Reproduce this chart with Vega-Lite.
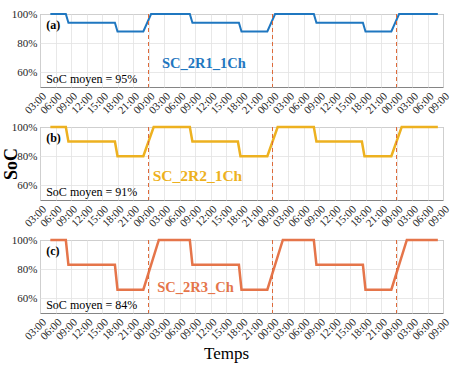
{
  "$schema": "https://vega.github.io/schema/vega-lite/v6.json",
  "background": "white",
  "padding": {"left": 1, "top": 7, "right": 5, "bottom": 5},
  "config": {
    "font": "Liberation Serif",
    "view": {"stroke": "#858585", "strokeWidth": 1},
    "text": {"font": "Liberation Serif"},
    "axis": {
      "labelFont": "Liberation Serif",
      "titleFont": "Liberation Serif",
      "labelFontSize": 11,
      "labelColor": "#262626",
      "titleColor": "#000000",
      "gridColor": "#e2e2e2",
      "gridWidth": 0.8,
      "domain": false,
      "ticks": false,
      "labelOverlap": false
    }
  },
  "datasets": {
    "soc": [
      {"panel": "a", "h": 5, "soc": 100}, {"panel": "a", "h": 8, "soc": 100}, {"panel": "a", "h": 8.5, "soc": 94}, {"panel": "a", "h": 17.5, "soc": 94}, {"panel": "a", "h": 18, "soc": 88}, {"panel": "a", "h": 23, "soc": 88}, {"panel": "a", "h": 24.5, "soc": 100},
      {"panel": "a", "h": 32, "soc": 100}, {"panel": "a", "h": 32.5, "soc": 94}, {"panel": "a", "h": 41.5, "soc": 94}, {"panel": "a", "h": 42, "soc": 88}, {"panel": "a", "h": 47, "soc": 88}, {"panel": "a", "h": 48.5, "soc": 100},
      {"panel": "a", "h": 56, "soc": 100}, {"panel": "a", "h": 56.5, "soc": 94}, {"panel": "a", "h": 65.5, "soc": 94}, {"panel": "a", "h": 66, "soc": 88}, {"panel": "a", "h": 71, "soc": 88}, {"panel": "a", "h": 72.5, "soc": 100}, {"panel": "a", "h": 80, "soc": 100},
      {"panel": "b", "h": 5, "soc": 100}, {"panel": "b", "h": 8, "soc": 100}, {"panel": "b", "h": 8.5, "soc": 90}, {"panel": "b", "h": 17.5, "soc": 90}, {"panel": "b", "h": 18, "soc": 80}, {"panel": "b", "h": 23, "soc": 80}, {"panel": "b", "h": 25, "soc": 100},
      {"panel": "b", "h": 32, "soc": 100}, {"panel": "b", "h": 32.5, "soc": 90}, {"panel": "b", "h": 41.3, "soc": 90}, {"panel": "b", "h": 41.8, "soc": 80}, {"panel": "b", "h": 47, "soc": 80}, {"panel": "b", "h": 49, "soc": 100},
      {"panel": "b", "h": 56, "soc": 100}, {"panel": "b", "h": 56.5, "soc": 90}, {"panel": "b", "h": 65.3, "soc": 90}, {"panel": "b", "h": 65.8, "soc": 80}, {"panel": "b", "h": 71, "soc": 80}, {"panel": "b", "h": 73, "soc": 100}, {"panel": "b", "h": 80, "soc": 100},
      {"panel": "c", "h": 5, "soc": 100}, {"panel": "c", "h": 8, "soc": 100}, {"panel": "c", "h": 8.5, "soc": 83}, {"panel": "c", "h": 17.5, "soc": 83}, {"panel": "c", "h": 18, "soc": 66}, {"panel": "c", "h": 23, "soc": 66}, {"panel": "c", "h": 26, "soc": 100},
      {"panel": "c", "h": 32, "soc": 100}, {"panel": "c", "h": 32.5, "soc": 83}, {"panel": "c", "h": 41.5, "soc": 83}, {"panel": "c", "h": 42, "soc": 66}, {"panel": "c", "h": 47, "soc": 66}, {"panel": "c", "h": 50, "soc": 100},
      {"panel": "c", "h": 56, "soc": 100}, {"panel": "c", "h": 56.5, "soc": 83}, {"panel": "c", "h": 65.5, "soc": 83}, {"panel": "c", "h": 66, "soc": 66}, {"panel": "c", "h": 71, "soc": 66}, {"panel": "c", "h": 74, "soc": 100}, {"panel": "c", "h": 80, "soc": 100}
    ],
    "minuit": [{"h": 24}, {"h": 48}, {"h": 72}]
  },
  "spacing": 40,
  "bounds": "flush",
  "vconcat": [
    {
      "width": 403,
      "height": 73,
      "encoding": {
        "x": {"type": "quantitative", "scale": {"domain": [3, 81], "nice": false, "zero": false},
          "axis": {"title": null, "labelOverlap": false, "values": [3,6,9,12,15,18,21,24,27,30,33,36,39,42,45,48,51,54,57,60,63,66,69,72,75,78,81], "labelAngle": -45, "labelPadding": 3, "labelExpr": "(datum.value % 24 < 10 ? '0' : '') + (datum.value % 24) + ':00'"}},
        "y": {"type": "quantitative", "scale": {"domain": [50, 100], "nice": false, "zero": false},
          "axis": {"title": null, "labelOverlap": false, "values": [60, 80, 100], "labelPadding": 3, "labelExpr": "datum.value + '%'"}}
      },
      "layer": [
        {
          "data": {"name": "soc"},
          "transform": [{"filter": "datum.panel == 'a'"}],
          "mark": {"type": "line", "color": "#1f77c0", "strokeWidth": 2},
          "encoding": {"x": {"field": "h"}, "y": {"field": "soc"}}
        },
        {
          "data": {"name": "minuit"},
          "mark": {"type": "rule", "color": "#dd6a3a", "strokeDash": [4, 3], "strokeWidth": 1},
          "encoding": {"x": {"field": "h"}, "y": null}
        },
        {
          "data": {"values": [{"t": "(a)"}]},
          "mark": {"type": "text", "fontWeight": "bold", "fontSize": 12, "align": "left", "baseline": "middle", "color": "#000000"},
          "encoding": {"text": {"field": "t"}, "x": {"datum": 4.2}, "y": {"datum": 92.5}}
        },
        {
          "data": {"values": [{"t": "SoC moyen = 95%"}]},
          "mark": {"type": "text", "fontSize": 12, "align": "left", "baseline": "middle", "color": "#000000"},
          "encoding": {"text": {"field": "t"}, "x": {"datum": 4.2}, "y": {"datum": 55.5}}
        },
        {
          "data": {"values": [{"t": "SC_2R1_1Ch"}]},
          "mark": {"type": "text", "fontWeight": "bold", "fontSize": 14.5, "align": "left", "baseline": "middle", "color": "#1f77c0"},
          "encoding": {"text": {"field": "t"}, "x": {"datum": 26.6}, "y": {"datum": 66}}
        }
      ]
    },
    {
      "width": 403,
      "height": 73,
      "encoding": {
        "x": {"type": "quantitative", "scale": {"domain": [3, 81], "nice": false, "zero": false},
          "axis": {"title": null, "labelOverlap": false, "values": [3,6,9,12,15,18,21,24,27,30,33,36,39,42,45,48,51,54,57,60,63,66,69,72,75,78,81], "labelAngle": -45, "labelPadding": 3, "labelExpr": "(datum.value % 24 < 10 ? '0' : '') + (datum.value % 24) + ':00'"}},
        "y": {"type": "quantitative", "scale": {"domain": [50, 100], "nice": false, "zero": false},
          "axis": {"title": "SoC", "labelOverlap": false, "titleFontSize": 18, "titleFontWeight": "bold", "titleX": -20, "titleY": 36.5, "titleAlign": "center", "titleBaseline": "bottom", "titleAngle": -90, "values": [60, 80, 100], "labelPadding": 3, "labelExpr": "datum.value + '%'"}}
      },
      "layer": [
        {
          "data": {"name": "soc"},
          "transform": [{"filter": "datum.panel == 'b'"}],
          "mark": {"type": "line", "color": "#EDB120", "strokeWidth": 2.5},
          "encoding": {"x": {"field": "h"}, "y": {"field": "soc"}}
        },
        {
          "data": {"name": "minuit"},
          "mark": {"type": "rule", "color": "#dd6a3a", "strokeDash": [4, 3], "strokeWidth": 1},
          "encoding": {"x": {"field": "h"}, "y": null}
        },
        {
          "data": {"values": [{"t": "(b)"}]},
          "mark": {"type": "text", "fontWeight": "bold", "fontSize": 12, "align": "left", "baseline": "middle", "color": "#000000"},
          "encoding": {"text": {"field": "t"}, "x": {"datum": 4.2}, "y": {"datum": 92.5}}
        },
        {
          "data": {"values": [{"t": "SoC moyen = 91%"}]},
          "mark": {"type": "text", "fontSize": 12, "align": "left", "baseline": "middle", "color": "#000000"},
          "encoding": {"text": {"field": "t"}, "x": {"datum": 4.2}, "y": {"datum": 55.5}}
        },
        {
          "data": {"values": [{"t": "SC_2R2_1Ch"}]},
          "mark": {"type": "text", "fontWeight": "bold", "fontSize": 15.5, "align": "left", "baseline": "middle", "color": "#EDB120"},
          "encoding": {"text": {"field": "t"}, "x": {"datum": 24.8}, "y": {"datum": 66.5}}
        }
      ]
    },
    {
      "width": 403,
      "height": 73,
      "encoding": {
        "x": {"type": "quantitative", "scale": {"domain": [3, 81], "nice": false, "zero": false},
          "axis": {"title": "Temps", "labelOverlap": false, "titleFontSize": 17, "titleFontWeight": "normal", "titleX": 186, "titleY": 45, "titleAlign": "center", "titleBaseline": "alphabetic", "values": [3,6,9,12,15,18,21,24,27,30,33,36,39,42,45,48,51,54,57,60,63,66,69,72,75,78,81], "labelAngle": -45, "labelPadding": 3, "labelExpr": "(datum.value % 24 < 10 ? '0' : '') + (datum.value % 24) + ':00'"}},
        "y": {"type": "quantitative", "scale": {"domain": [50, 100], "nice": false, "zero": false},
          "axis": {"title": null, "labelOverlap": false, "values": [60, 80, 100], "labelPadding": 3, "labelExpr": "datum.value + '%'"}}
      },
      "layer": [
        {
          "data": {"name": "soc"},
          "transform": [{"filter": "datum.panel == 'c'"}],
          "mark": {"type": "line", "color": "#e5754a", "strokeWidth": 2.5},
          "encoding": {"x": {"field": "h"}, "y": {"field": "soc"}}
        },
        {
          "data": {"name": "minuit"},
          "mark": {"type": "rule", "color": "#dd6a3a", "strokeDash": [4, 3], "strokeWidth": 1},
          "encoding": {"x": {"field": "h"}, "y": null}
        },
        {
          "data": {"values": [{"t": "(c)"}]},
          "mark": {"type": "text", "fontWeight": "bold", "fontSize": 12, "align": "left", "baseline": "middle", "color": "#000000"},
          "encoding": {"text": {"field": "t"}, "x": {"datum": 4.2}, "y": {"datum": 92.5}}
        },
        {
          "data": {"values": [{"t": "SoC moyen = 84%"}]},
          "mark": {"type": "text", "fontSize": 12, "align": "left", "baseline": "middle", "color": "#000000"},
          "encoding": {"text": {"field": "t"}, "x": {"datum": 4.2}, "y": {"datum": 55.5}}
        },
        {
          "data": {"values": [{"t": "SC_2R3_Ch"}]},
          "mark": {"type": "text", "fontWeight": "bold", "fontSize": 14.5, "align": "left", "baseline": "middle", "color": "#e5754a"},
          "encoding": {"text": {"field": "t"}, "x": {"datum": 25.7}, "y": {"datum": 67}}
        }
      ]
    }
  ]
}
